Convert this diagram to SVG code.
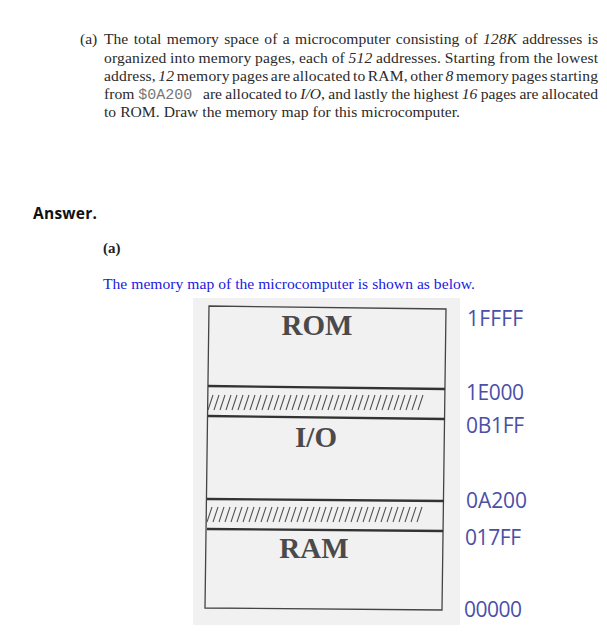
<svg xmlns="http://www.w3.org/2000/svg" width="607" height="635" viewBox="0 0 607 635">
<style>
.q{font-family:"Liberation Serif",serif;font-size:15.6px;fill:#2a2a2a}
.i{font-style:italic}
.m{font-family:"Liberation Mono",monospace;font-size:15px;fill:#777}
.ans{font-family:"Open Sans","Liberation Sans",sans-serif;font-size:15.5px;font-weight:bold;fill:#111}
.sub{font-family:"Liberation Serif",serif;font-size:15px;font-weight:bold;fill:#222}
.blue{font-family:"Liberation Serif",serif;font-size:15.6px;fill:#1a1ae0}
.lbl{font-family:"Liberation Serif",serif;font-size:29px;font-weight:bold;fill:#4a4a4a;text-anchor:middle}
.addr{font-family:"Open Sans","Noto Sans",sans-serif;font-size:21px;fill:#4a4fa8}
.thin{stroke:#444;stroke-width:1.3;fill:none}
.thick{stroke:#333;stroke-width:2.4;fill:none}
.hatch{stroke:#555;stroke-width:1.1;fill:none}
</style>
<rect width="607" height="635" fill="#fff"/>
<g id="question">
<text class="q" x="80" y="44">(a)</text>
<text class="q" x="104" y="44" word-spacing="1.4" textLength="494">The total memory space of a microcomputer consisting of <tspan class="i">128K</tspan> addresses is</text>
<text class="q" x="104" y="63" word-spacing="-0.4" textLength="494">organized into memory pages, each of <tspan class="i">512</tspan> addresses. Starting from the lowest</text>
<text class="q" x="104" y="81" word-spacing="-1.6" textLength="494">address, <tspan class="i">12</tspan> memory pages are allocated to RAM, other <tspan class="i">8</tspan> memory pages starting</text>
<text class="q" x="104" y="99">from <tspan class="m">$0A200</tspan></text>
<text class="q" x="203" y="99" word-spacing="-0.6" textLength="395">are allocated to <tspan class="i">I/O</tspan>, and lastly the highest <tspan class="i">16</tspan> pages are allocated</text>
<text class="q" x="104" y="117" textLength="356">to ROM. Draw the memory map for this microcomputer.</text>
</g>
<text class="ans" x="33" y="219" textLength="64">Answer.</text>
<text class="sub" x="103" y="253">(a)</text>
<text class="blue" x="103" y="289" textLength="372">The memory map of the microcomputer is shown as below.</text>
<g id="memory-map">
<rect x="193" y="298" width="267" height="327" fill="#f1f1f1"/>
<g id="connectors">
<path class="thin" d="M209 306L446 309L442 610L205 608Z"/>
<path class="thick" d="M208 386L445 389"/>
<path class="thick" d="M208 416L445 419"/>
<path class="thick" d="M207 499L444 501"/>
<path class="thick" d="M207 529L443 531"/>
</g>
<g id="hatch-top"><path class="hatch" d="M208 410l5-15m1 15l5-15m1 15l5-15m1 15l5-15m1 15l5-15m1 15l5-15m1 15l5-15m1 15l5-15m1 15l5-15m1 15l5-15m1 15l5-15m1 15l5-15m1 15l5-15m1 15l5-15m1 15l5-15m1 15l5-15m1 15l5-15m1 15l5-15m1 15l5-15m1 15l5-15m1 15l5-15m1 15l5-15m1 15l5-15m1 15l5-15m1 15l5-15m1 15l5-15m1 15l5-15m1 15l5-15m1 15l5-15m1 15l5-15m1 15l5-15m1 15l5-15m1 15l5-15m1 15l5-15m1 15l5-15m1 15l5-15"/></g>
<g id="hatch-bottom"><path class="hatch" d="M207 522l5-15m1 15l5-15m1 15l5-15m1 15l5-15m1 15l5-15m1 15l5-15m1 15l5-15m1 15l5-15m1 15l5-15m1 15l5-15m1 15l5-15m1 15l5-15m1 15l5-15m1 15l5-15m1 15l5-15m1 15l5-15m1 15l5-15m1 15l5-15m1 15l5-15m1 15l5-15m1 15l5-15m1 15l5-15m1 15l5-15m1 15l5-15m1 15l5-15m1 15l5-15m1 15l5-15m1 15l5-15m1 15l5-15m1 15l5-15m1 15l5-15m1 15l5-15m1 15l5-15m1 15l5-15m1 15l5-15m1 15l5-15"/></g>
<g id="rom"><text class="lbl" x="317" y="335">ROM</text></g>
<g id="io"><text class="lbl" x="316" y="447">I/O</text></g>
<g id="ram"><text class="lbl" x="314" y="558">RAM</text></g>
</g>
<g id="addresses">
<text class="addr" x="467" y="326" textLength="56">1FFFF</text>
<text class="addr" x="466" y="400" textLength="58">1E000</text>
<text class="addr" x="466" y="433" textLength="58">0B1FF</text>
<text class="addr" x="466" y="508" textLength="61">0A200</text>
<text class="addr" x="465" y="545" textLength="56">017FF</text>
<text class="addr" x="464" y="617" textLength="58">00000</text>
</g>
</svg>
